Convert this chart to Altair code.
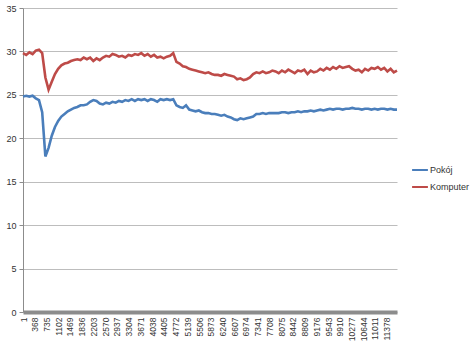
import altair as alt
import pandas as pd

idx = list(range(0, 11800, 100))

pokoj = [
    24.8, 24.9, 24.8, 24.9, 24.6, 24.4, 23.0, 17.9, 18.9, 20.3,
    21.3, 22.0, 22.5, 22.8, 23.1, 23.3, 23.5, 23.6, 23.8, 23.8,
    23.9, 24.2, 24.4, 24.3, 24.0, 23.9, 24.1, 24.0, 24.2, 24.1,
    24.3, 24.2, 24.4, 24.3, 24.5, 24.3, 24.5, 24.4, 24.5, 24.3,
    24.5, 24.4, 24.2, 24.5, 24.4, 24.5, 24.4, 24.5, 23.8, 23.6,
    23.5, 23.8, 23.3, 23.2, 23.1, 23.2, 23.0, 22.9, 22.9, 22.8,
    22.8, 22.7, 22.6, 22.7, 22.5, 22.4, 22.2, 22.1, 22.3, 22.2,
    22.3, 22.4, 22.5, 22.8, 22.8, 22.9, 22.8, 22.9, 22.9, 22.9,
    22.9, 23.0, 23.0, 22.9, 23.0, 23.0, 23.1, 23.0, 23.1, 23.1,
    23.2, 23.1, 23.2, 23.3, 23.2, 23.3, 23.4, 23.3, 23.4, 23.4,
    23.3, 23.4, 23.4, 23.5, 23.4, 23.4, 23.3, 23.4, 23.4, 23.3,
    23.4, 23.3, 23.4, 23.4, 23.3, 23.4, 23.3, 23.3,
]

komputer = [
    29.8, 29.6, 29.9, 29.7, 30.1, 30.2, 29.8, 27.0, 25.6, 26.5,
    27.4, 28.0, 28.4, 28.6, 28.7, 28.9, 29.0, 29.1, 29.0, 29.3,
    29.1, 29.3, 28.9, 29.2, 29.0, 29.3, 29.5, 29.4, 29.7, 29.6,
    29.4, 29.5, 29.3, 29.6, 29.5, 29.7, 29.6, 29.8, 29.5, 29.7,
    29.4, 29.6, 29.3, 29.4, 29.2, 29.4, 29.5, 29.8, 28.8, 28.6,
    28.3, 28.2, 28.0, 27.9, 27.8, 27.7, 27.6, 27.5, 27.6, 27.4,
    27.3, 27.3, 27.2, 27.4, 27.3, 27.2, 27.1, 26.8, 26.9, 26.7,
    26.8, 27.0, 27.4, 27.6, 27.5, 27.7, 27.5, 27.6, 27.8, 27.7,
    27.5, 27.8, 27.6, 27.9, 27.7, 27.5, 27.8, 27.7, 27.9, 27.4,
    27.8, 27.6, 27.7, 28.0, 27.8, 28.1, 27.9, 28.2, 28.0, 28.3,
    28.1, 28.2, 28.3, 28.0, 27.8, 27.9, 27.6, 28.0, 27.8, 28.1,
    28.0, 28.2, 27.9, 28.1, 27.7, 28.0, 27.6, 27.8,
]

tick_labels = [1, 368, 735, 1102, 1469, 1836, 2203, 2570, 2937, 3304, 3671,
               4038, 4405, 4772, 5139, 5506, 5873, 6240, 6607, 6974, 7341,
               7708, 8075, 8442, 8809, 9176, 9543, 9910, 10277, 10644,
               11011, 11378]

series = ["Pokój", "Komputer"]
colors = ["#4a7ebb", "#be4b48"]

rows = []
for i, v in zip(idx, pokoj):
    rows.append({"i": i, "v": v, "s": "Pokój"})
for i, v in zip(idx, komputer):
    rows.append({"i": i, "v": v, "s": "Komputer"})
df = pd.DataFrame(rows)

font = "Liberation Sans"

lines = alt.Chart(df).mark_line(strokeWidth=2.6).encode(
    x=alt.X("i:Q", scale=alt.Scale(domain=[0, 11700], nice=False, zero=False),
            axis=alt.Axis(values=tick_labels, labelAngle=-90, title=None,
                          format="d", grid=False, ticks=False, domainWidth=4,
                          domainColor="#8c8c8c", labelFontSize=8.5,
                          labelFont=font, labelColor="#333", labelPadding=5,
                          labelOverlap=False, labelFlush=False)),
    y=alt.Y("v:Q", scale=alt.Scale(domain=[0, 35], nice=False),
            axis=alt.Axis(values=[0, 5, 10, 15, 20, 25, 30, 35], title=None,
                          gridColor="#bdbdbd", gridWidth=1, domainColor="#8c8c8c",
                          tickColor="#8c8c8c", tickSize=4, labelFontSize=9,
                          labelFont=font, labelColor="#333", labelPadding=3)),
    color=alt.Color("s:N", scale=alt.Scale(domain=series, range=colors),
                    legend=alt.Legend(title=None, orient="none", legendX=388,
                                      legendY=153, symbolType="stroke",
                                      symbolStrokeWidth=2, symbolSize=250,
                                      labelFont=font, labelFontSize=9,
                                      labelColor="#333", rowPadding=3,
                                      labelOffset=1)),
    detail="s:N",
)

chart = lines.properties(
    width=374, height=304,
    autosize=alt.AutoSizeParams(type="none"),
    padding={"left": 23, "top": 8, "right": 77, "bottom": 41},
).configure_view(stroke=None)

chart.save("out.html", embed_options={"renderer": "svg", "actions": False})
